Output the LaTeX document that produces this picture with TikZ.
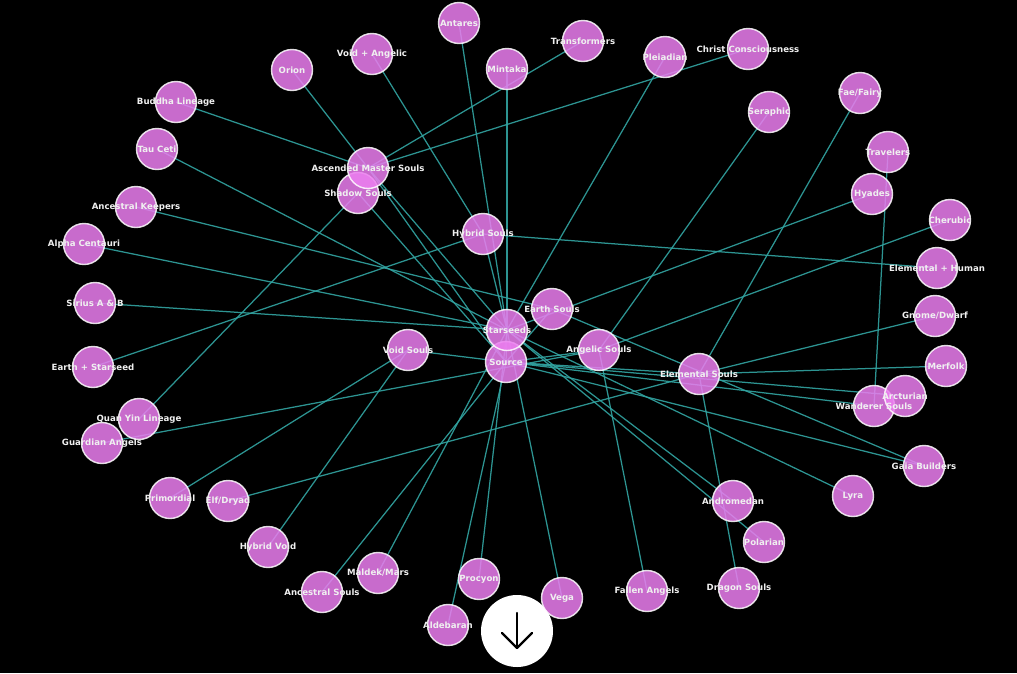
\documentclass[tikz,border=0pt]{standalone}
\usepackage{fontspec}
\setmainfont{DejaVu Sans}
\pgfdeclarelayer{bg}
\pgfsetlayers{bg,main}
\definecolor{nodecol}{RGB}{236,126,240}
\definecolor{edgecol}{RGB}{50,165,162}
\definecolor{labelcol}{RGB}{240,240,240}
\begin{document}
\begin{tikzpicture}[x=1pt,y=-1pt,
  soul/.style={circle, minimum size=41pt, inner sep=0pt, fill=nodecol, fill opacity=0.85, draw=white, draw opacity=0.85, line width=1.4pt},
  lbl/.style={text=labelcol, font=\bfseries\fontsize{8.6}{10}\selectfont, inner sep=0pt},
  edge/.style={draw=edgecol, line width=1.25pt, opacity=0.9},
  arrowbtn/.style={circle, fill=white, minimum size=72pt, inner sep=0pt}]
\useasboundingbox (0,0) rectangle (1017,673);
\begin{pgfonlayer}{bg}
\fill[black] (0,0) rectangle (1017,673);
\end{pgfonlayer}

% button
\node[arrowbtn] (btn) at (517,631) {};
\draw[line width=2.4pt, black, line cap=round, line join=round] ([shift={(0,-18)}]btn.center) -- ([shift={(0,17)}]btn.center);
\draw[line width=2.4pt, black, line cap=round, line join=round] ([shift={(-15,2)}]btn.center) -- ([shift={(0,17)}]btn.center) -- ([shift={(15,2)}]btn.center);

% nodes
\node[soul] (antares) at (459,23) {};
\node[soul] (transformers) at (583,41) {};
\node[soul] (voidangelic) at (372,54) {};
\node[soul] (mintaka) at (507,69) {};
\node[soul] (pleiadian) at (665,57) {};
\node[soul] (christ) at (748,49) {};
\node[soul] (orion) at (292,70) {};
\node[soul] (buddha) at (176,102) {};
\node[soul] (seraphic) at (769,112) {};
\node[soul] (fae) at (860,93) {};
\node[soul] (tauceti) at (157,149) {};
\node[soul] (travelers) at (888,152) {};
\node[soul] (shadow) at (358,193) {};
\node[soul] (ascended) at (368,168) {};
\node[soul] (hyades) at (872,194) {};
\node[soul] (ancestralkeepers) at (136,207) {};
\node[soul] (cherubic) at (950,220) {};
\node[soul] (hybrid) at (483,234) {};
\node[soul] (alpha) at (84,244) {};
\node[soul] (elemhuman) at (937,268) {};
\node[soul] (sirius) at (95,303) {};
\node[soul] (earthsouls) at (552,309) {};
\node[soul] (gnome) at (935,316) {};
\node[soul] (source) at (506,362) {};
\node[soul] (starseeds) at (507,330) {};
\node[soul] (voidsouls) at (408,350) {};
\node[soul] (angelic) at (599,350) {};
\node[soul] (earthstarseed) at (93,367) {};
\node[soul] (merfolk) at (946,366) {};
\node[soul] (elemental) at (699,374) {};
\node[soul] (wanderer) at (874,406) {};
\node[soul] (arcturian) at (905,396) {};
\node[soul] (quanyin) at (139,419) {};
\node[soul] (guardian) at (102,443) {};
\node[soul] (gaia) at (924,466) {};
\node[soul] (primordial) at (170,498) {};
\node[soul] (elf) at (228,501) {};
\node[soul] (lyra) at (853,496) {};
\node[soul] (andromedan) at (733,501) {};
\node[soul] (polarian) at (764,542) {};
\node[soul] (hybridvoid) at (268,547) {};
\node[soul] (maldek) at (378,573) {};
\node[soul] (procyon) at (479,579) {};
\node[soul] (ancestralsouls) at (322,592) {};
\node[soul] (vega) at (562,598) {};
\node[soul] (fallen) at (647,591) {};
\node[soul] (dragon) at (739,588) {};
\node[soul] (aldebaran) at (448,625) {};

% edges
\begin{pgfonlayer}{bg}
\foreach \a/\b in {starseeds/source, antares/starseeds, mintaka/starseeds, pleiadian/starseeds,
  tauceti/starseeds, alpha/starseeds, sirius/starseeds, hyades/starseeds, lyra/starseeds,
  andromedan/starseeds, polarian/starseeds, procyon/starseeds, vega/starseeds, maldek/starseeds,
  hybrid/starseeds, orion/ascended, buddha/ascended, transformers/ascended, christ/ascended,
  ascended/source, ascended/starseeds, shadow/source, quanyin/shadow, voidangelic/hybrid,
  earthstarseed/hybrid, elemhuman/hybrid, ancestralkeepers/earthsouls, earthsouls/source,
  earthsouls/gaia, voidsouls/source, primordial/voidsouls, hybridvoid/voidsouls,
  ancestralsouls/source, aldebaran/source, angelic/source, seraphic/angelic, cherubic/angelic,
  fallen/angelic, guardian/angelic, elemental/source, fae/elemental, gnome/elemental,
  merfolk/elemental, dragon/elemental, elf/elemental, source/arcturian, source/wanderer,
  travelers/wanderer, source/gaia}
  \draw[edge] (\a.center) -- (\b.center);
\end{pgfonlayer}

% labels
\node[lbl] at (antares) {Antares};
\node[lbl] at (transformers) {Transformers};
\node[lbl] at (voidangelic) {Void + Angelic};
\node[lbl] at (mintaka) {Mintaka};
\node[lbl] at (pleiadian) {Pleiadian};
\node[lbl] at (christ) {Christ Consciousness};
\node[lbl] at (orion) {Orion};
\node[lbl] at (buddha) {Buddha Lineage};
\node[lbl] at (seraphic) {Seraphic};
\node[lbl] at (fae) {Fae/Fairy};
\node[lbl] at (tauceti) {Tau Ceti};
\node[lbl] at (travelers) {Travelers};
\node[lbl] at (ascended) {Ascended Master Souls};
\node[lbl] at (shadow) {Shadow Souls};
\node[lbl] at (hyades) {Hyades};
\node[lbl] at (ancestralkeepers) {Ancestral Keepers};
\node[lbl] at (cherubic) {Cherubic};
\node[lbl] at (hybrid) {Hybrid Souls};
\node[lbl] at (alpha) {Alpha Centauri};
\node[lbl] at (elemhuman) {Elemental + Human};
\node[lbl] at (sirius) {Sirius A \& B};
\node[lbl] at (earthsouls) {Earth Souls};
\node[lbl] at (gnome) {Gnome/Dwarf};
\node[lbl] at (starseeds) {Starseeds};
\node[lbl] at (voidsouls) {Void Souls};
\node[lbl] at (angelic) {Angelic Souls};
\node[lbl] at (source) {Source};
\node[lbl] at (earthstarseed) {Earth + Starseed};
\node[lbl] at (merfolk) {Merfolk};
\node[lbl] at (elemental) {Elemental Souls};
\node[lbl] at (arcturian) {Arcturian};
\node[lbl] at (wanderer) {Wanderer Souls};
\node[lbl] at (quanyin) {Quan Yin Lineage};
\node[lbl] at (guardian) {Guardian Angels};
\node[lbl] at (gaia) {Gaia Builders};
\node[lbl] at (primordial) {Primordial};
\node[lbl] at (elf) {Elf/Dryad};
\node[lbl] at (lyra) {Lyra};
\node[lbl] at (andromedan) {Andromedan};
\node[lbl] at (polarian) {Polarian};
\node[lbl] at (hybridvoid) {Hybrid Void};
\node[lbl] at (maldek) {Maldek/Mars};
\node[lbl] at (procyon) {Procyon};
\node[lbl] at (ancestralsouls) {Ancestral Souls};
\node[lbl] at (vega) {Vega};
\node[lbl] at (fallen) {Fallen Angels};
\node[lbl] at (dragon) {Dragon Souls};
\node[lbl] at (aldebaran) {Aldebaran};
\end{tikzpicture}
\end{document}
